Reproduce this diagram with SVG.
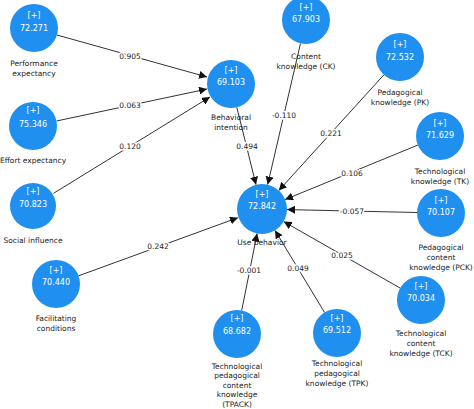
<svg xmlns="http://www.w3.org/2000/svg" width="474" height="409" viewBox="0 0 474 409">
<style>
.c{fill:#1f8ff0}
.v{font-family:"DejaVu Sans",Verdana,sans-serif;font-size:8px;fill:#fff;text-anchor:middle}
.l{font-family:"DejaVu Sans",Verdana,sans-serif;font-size:7.5px;fill:#222;text-anchor:middle}
.e{stroke:#333;stroke-width:1;fill:none;marker-end:url(#ah)}
.w{font-family:"DejaVu Sans",Verdana,sans-serif;font-size:7.5px;fill:#222;text-anchor:middle;stroke:#fff;stroke-width:3;paint-order:stroke}
</style>
<defs>
<marker id="ah" markerUnits="userSpaceOnUse" markerWidth="9" markerHeight="8" refX="8" refY="4" orient="auto"><path d="M0,0 L8,4 L0,8 Z" fill="#111"/></marker>
</defs>
<rect width="474" height="409" fill="#fff"/>
<g id="connectors">
<line class="e" x1="57" y1="35" x2="207" y2="77"/>
<line class="e" x1="56.5" y1="121" x2="207" y2="89"/>
<line class="e" x1="53.4" y1="193.4" x2="210" y2="97"/>
<line class="e" x1="78.6" y1="275.8" x2="238" y2="217.7"/>
<line class="e" x1="236.8" y1="107.3" x2="256" y2="184.7"/>
<line class="e" x1="300.5" y1="43.4" x2="267.7" y2="184.6"/>
<line class="e" x1="383.9" y1="74.8" x2="278.8" y2="190.5"/>
<line class="e" x1="417.8" y1="145.1" x2="285.1" y2="199.5"/>
<line class="e" x1="417" y1="212.5" x2="287" y2="209.6"/>
<line class="e" x1="400.2" y1="288.1" x2="283.7" y2="221.6"/>
<line class="e" x1="324.6" y1="312.5" x2="275" y2="230.4"/>
<line class="e" x1="241.7" y1="310.5" x2="257.1" y2="233.5"/>
<text class="w" x="130" y="59">0.905</text>
<text class="w" x="130" y="108">0.063</text>
<text class="w" x="130" y="149">0.120</text>
<text class="w" x="158" y="249">0.242</text>
<text class="w" x="247" y="149">0.494</text>
<text class="w" x="284" y="118">-0.110</text>
<text class="w" x="331" y="136">0.221</text>
<text class="w" x="352" y="176">0.106</text>
<text class="w" x="352" y="214">-0.057</text>
<text class="w" x="342" y="258">0.025</text>
<text class="w" x="298" y="271">0.049</text>
<text class="w" x="249" y="273">-0.001</text>
</g>
<g id="pe"><circle class="c" cx="34" cy="28" r="24"/><text class="v" x="34" y="18">[+]</text><text class="v" x="34" y="31">72.271</text><text class="l" x="34" y="66">Performance</text><text class="l" x="34" y="76">expectancy</text></g>
<g id="ee"><circle class="c" cx="33" cy="126" r="24"/><text class="v" x="33" y="113">[+]</text><text class="v" x="33" y="127">75.346</text><text class="l" x="33" y="163">Effort expectancy</text></g>
<g id="si"><circle class="c" cx="33" cy="206" r="23"/><text class="v" x="33" y="194">[+]</text><text class="v" x="33" y="207">70.823</text><text class="l" x="33" y="243">Social influence</text></g>
<g id="fc"><circle class="c" cx="56" cy="284" r="24"/><text class="v" x="56" y="273">[+]</text><text class="v" x="56" y="285">70.440</text><text class="l" x="56" y="321">Facilitating</text><text class="l" x="56" y="331">conditions</text></g>
<g id="bi"><circle class="c" cx="231" cy="84" r="24"/><text class="v" x="231" y="73">[+]</text><text class="v" x="231" y="85">69.103</text><text class="l" x="231" y="120">Behavioral</text><text class="l" x="231" y="130">intention</text></g>
<g id="ck"><circle class="c" cx="306" cy="20" r="24"/><text class="v" x="306" y="10">[+]</text><text class="v" x="306" y="22">67.903</text><text class="l" x="306" y="59">Content</text><text class="l" x="306" y="69">knowledge (CK)</text></g>
<g id="pk"><circle class="c" cx="400" cy="57" r="24"/><text class="v" x="400" y="47">[+]</text><text class="v" x="400" y="60">72.532</text><text class="l" x="400" y="95">Pedagogical</text><text class="l" x="400" y="105">knowledge (PK)</text></g>
<g id="tk"><circle class="c" cx="440" cy="136" r="24"/><text class="v" x="440" y="126">[+]</text><text class="v" x="440" y="138">71.629</text><text class="l" x="440" y="174">Technological</text><text class="l" x="440" y="184">knowledge (TK)</text></g>
<g id="pck"><circle class="c" cx="441" cy="213" r="24"/><text class="v" x="441" y="203">[+]</text><text class="v" x="441" y="215">70.107</text><text class="l" x="441" y="250">Pedagogical</text><text class="l" x="441" y="260">content</text><text class="l" x="441" y="270">knowledge (PCK)</text></g>
<g id="tck"><circle class="c" cx="421" cy="300" r="24"/><text class="v" x="421" y="289">[+]</text><text class="v" x="421" y="301">70.034</text><text class="l" x="421" y="336">Technological</text><text class="l" x="421" y="346">content</text><text class="l" x="421" y="356">knowledge (TCK)</text></g>
<g id="tpk"><circle class="c" cx="337" cy="333" r="24"/><text class="v" x="337" y="321">[+]</text><text class="v" x="337" y="333">69.512</text><text class="l" x="337" y="366">Technological</text><text class="l" x="337" y="376">pedagogical</text><text class="l" x="337" y="386">knowledge (TPK)</text></g>
<g id="tpack"><circle class="c" cx="237" cy="334" r="24"/><text class="v" x="237" y="321">[+]</text><text class="v" x="237" y="334">68.682</text><text class="l" x="237" y="369">Technological</text><text class="l" x="237" y="378">pedagogical</text><text class="l" x="237" y="388">content</text><text class="l" x="237" y="397">knowledge</text><text class="l" x="237" y="407">(TPACK)</text></g>
<g id="ub"><circle class="c" cx="262" cy="209" r="25"/><text class="v" x="262" y="197">[+]</text><text class="v" x="262" y="209">72.842</text><text class="l" x="262" y="245">Use behavior</text></g>
</svg>
